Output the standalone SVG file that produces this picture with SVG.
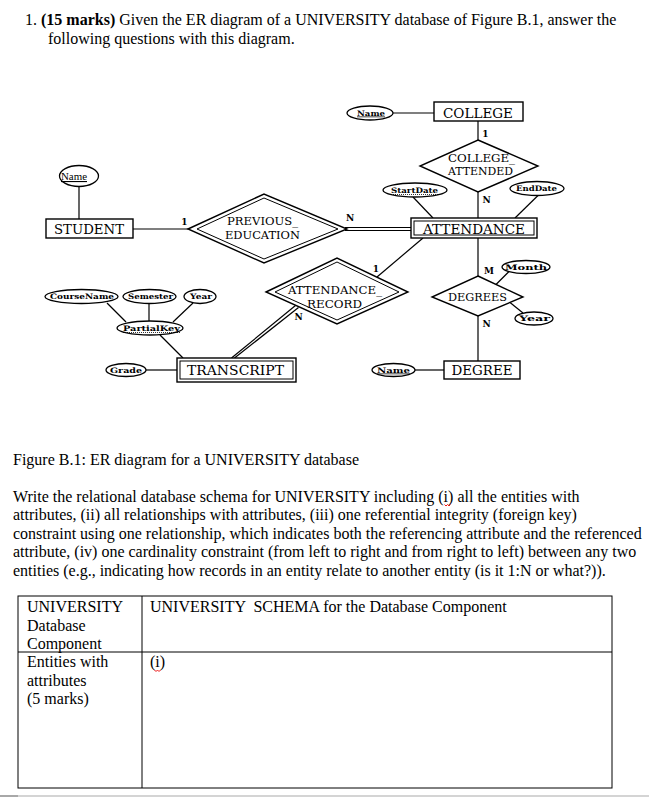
<svg xmlns="http://www.w3.org/2000/svg" width="649" height="797" viewBox="0 0 649 797">
<style>
.t{font-family:"Liberation Serif","Times New Roman",serif;font-size:16px;fill:#000}
.lbl{font-family:"DejaVu Serif",serif;font-size:13px;fill:#000;text-anchor:middle}
.rl{font-family:"DejaVu Serif",serif;font-size:11px;fill:#000;text-anchor:middle}
.att{font-family:"DejaVu Serif",serif;font-size:7.5px;font-weight:bold;fill:#000;text-anchor:middle}
.card{font-family:"DejaVu Serif",serif;font-size:9px;font-weight:bold;fill:#000;text-anchor:middle}
.box{fill:#fff;stroke:#000;stroke-width:1.4}
.in{fill:none;stroke:#000;stroke-width:1}
.ell{fill:#fff;stroke:#000;stroke-width:1.3}
.ln{stroke:#000;stroke-width:1.2;fill:none}
.ul{text-decoration:underline}
.dot{stroke:#000;stroke-width:0.8;stroke-dasharray:1 1}
.sq{fill:none;stroke:#e00;stroke-width:0.9}
</style>

<text class="t" x="25" y="25">1. <tspan font-weight="bold">(15 marks)</tspan> Given the ER diagram of a UNIVERSITY database of Figure B.1, answer the</text>
<text class="t" x="48" y="43.5">following questions with this diagram.</text>

<g id="connectors">
<line class="ln" x1="79" y1="186.5" x2="79" y2="219"/>
<line class="ln" x1="133" y1="229" x2="188" y2="229"/>
<line class="ln" x1="345" y1="227.5" x2="411" y2="227.5"/>
<line class="ln" x1="345" y1="230.5" x2="411" y2="230.5"/>
<line class="ln" x1="393" y1="113" x2="434" y2="113"/>
<line class="ln" x1="478" y1="121" x2="478" y2="140"/>
<line class="ln" x1="478" y1="192" x2="478" y2="218"/>
<line class="ln" x1="413" y1="197" x2="433" y2="218"/>
<line class="ln" x1="538" y1="195.5" x2="515" y2="218"/>
<line class="ln" x1="478" y1="238" x2="478" y2="276"/>
<line class="ln" x1="423" y1="238" x2="377" y2="277"/>
<line class="ln" x1="496" y1="284.5" x2="509" y2="271.5"/>
<line class="ln" x1="510" y1="302.5" x2="523" y2="313"/>
<line class="ln" x1="478" y1="316" x2="478" y2="361"/>
<line class="ln" x1="415" y1="370" x2="444" y2="370"/>
<line class="ln" x1="295.5" y1="305.5" x2="231.5" y2="358"/>
<line class="ln" x1="298.5" y1="307.5" x2="234.5" y2="358"/>
<line class="ln" x1="160" y1="335" x2="183" y2="358"/>
<line class="ln" x1="107" y1="303" x2="126" y2="322"/>
<line class="ln" x1="149" y1="303.5" x2="149" y2="321"/>
<line class="ln" x1="193" y1="303" x2="173" y2="322"/>
<line class="ln" x1="146" y1="370" x2="177" y2="370"/>
<text class="card" x="184.5" y="225">1</text>
<text class="card" x="350" y="221">N</text>
<text class="card" x="485.5" y="137">1</text>
<text class="card" x="486.5" y="203">N</text>
<text class="card" x="489" y="274">M</text>
<text class="card" x="486.5" y="327">N</text>
<text class="card" x="376" y="272">1</text>
<text class="card" x="298.5" y="320">N</text>
</g>

<g id="student">
<rect class="box" x="46" y="219" width="87" height="19"/>
<text class="lbl" x="89" y="234" font-size="14" textLength="70" lengthAdjust="spacingAndGlyphs">STUDENT</text>
</g>
<g id="student-name">
<ellipse class="ell" cx="79" cy="176" rx="19.5" ry="10.5"/>
<text class="ul" x="74" y="180" font-family="Liberation Serif,serif" font-size="11" text-anchor="middle" textLength="26" lengthAdjust="spacingAndGlyphs">Name</text>
</g>

<g id="college">
<rect class="box" x="434" y="102" width="89" height="19"/>
<text class="lbl" x="478" y="117.5" textLength="70" lengthAdjust="spacingAndGlyphs">COLLEGE</text>
</g>
<g id="college-name">
<ellipse class="ell" cx="370" cy="113" rx="23" ry="7"/>
<text class="att ul" x="371" y="115.5" textLength="28" lengthAdjust="spacingAndGlyphs">Name</text>
</g>

<g id="college-attended">
<polygon class="box" points="478,140 538,166 478,192 420,166"/>
<text class="rl" x="481.5" y="162" textLength="67" lengthAdjust="spacingAndGlyphs">COLLEGE_</text>
<text class="rl" x="480.5" y="175" textLength="65" lengthAdjust="spacingAndGlyphs">ATTENDED</text>
</g>

<g id="startdate">
<ellipse class="ell" cx="415" cy="190" rx="32" ry="7"/>
<text class="att" x="414.5" y="192.5" textLength="47" lengthAdjust="spacingAndGlyphs">StartDate</text>
<line class="dot" x1="391" y1="194.5" x2="438" y2="194.5"/>
</g>
<g id="enddate">
<ellipse class="ell" cx="537" cy="188.5" rx="27" ry="7"/>
<text class="att" x="536.5" y="191" textLength="41" lengthAdjust="spacingAndGlyphs">EndDate</text>
</g>

<g id="attendance">
<rect class="box" x="411" y="218" width="126" height="20"/>
<rect class="in" x="414" y="221" width="120" height="14"/>
<text class="lbl" x="474" y="234" textLength="102" lengthAdjust="spacingAndGlyphs">ATTENDANCE</text>
</g>

<g id="previous-education">
<polygon class="box" points="188,229 264,194 347,229 264,263"/>
<polygon class="in" points="197,229 264,198 338,229 264,259"/>
<text class="rl" x="262.5" y="225" textLength="71" lengthAdjust="spacingAndGlyphs">PREVIOUS_</text>
<text class="rl" x="262.5" y="238.5" textLength="75" lengthAdjust="spacingAndGlyphs">EDUCATION</text>
</g>

<g id="attendance-record">
<polygon class="box" points="266,292 337,258 408,292 337,324"/>
<polygon class="in" points="275,292 337,262 399,292 337,320"/>
<text class="rl" x="335" y="294" textLength="94" lengthAdjust="spacingAndGlyphs">ATTENDANCE_</text>
<text class="rl" x="334.5" y="307.5" textLength="55" lengthAdjust="spacingAndGlyphs">RECORD</text>
</g>

<g id="degrees">
<polygon class="box" points="478,276 523,297 478,316 432,297"/>
<text class="rl" x="477.5" y="301" textLength="59" lengthAdjust="spacingAndGlyphs">DEGREES</text>
</g>
<g id="month">
<ellipse class="ell" cx="526" cy="267" rx="24" ry="6.5"/>
<text class="att" x="526" y="269.5" textLength="42" lengthAdjust="spacingAndGlyphs">Month</text>
</g>
<g id="degrees-year">
<ellipse class="ell" cx="534" cy="318.5" rx="19" ry="6.5"/>
<text class="att" x="534.5" y="321" textLength="31" lengthAdjust="spacingAndGlyphs">Year</text>
</g>

<g id="degree">
<rect class="box" x="444" y="361" width="76" height="18"/>
<text class="lbl" x="482" y="375" textLength="61" lengthAdjust="spacingAndGlyphs">DEGREE</text>
</g>
<g id="degree-name">
<ellipse class="ell" cx="393.5" cy="370" rx="21.5" ry="6.5"/>
<text class="att ul" x="393.5" y="372.5" textLength="33" lengthAdjust="spacingAndGlyphs">Name</text>
</g>

<g id="transcript">
<rect class="box" x="177" y="358" width="119" height="24"/>
<rect class="in" x="180" y="361" width="113" height="18"/>
<text class="lbl" x="235.5" y="375" textLength="97" lengthAdjust="spacingAndGlyphs">TRANSCRIPT</text>
</g>
<g id="grade">
<ellipse class="ell" cx="126" cy="370" rx="20" ry="6.5"/>
<text class="att" x="126" y="372.5" textLength="32" lengthAdjust="spacingAndGlyphs">Grade</text>
</g>
<g id="partialkey">
<ellipse class="ell" cx="150" cy="328" rx="33" ry="7"/>
<text class="att" x="151.5" y="330.5" textLength="57" lengthAdjust="spacingAndGlyphs">PartialKey</text>
<line class="dot" x1="123" y1="332.5" x2="180" y2="332.5"/>
</g>
<g id="coursename">
<ellipse class="ell" cx="81.5" cy="296.5" rx="36.5" ry="7"/>
<text class="att" x="82" y="299" textLength="64" lengthAdjust="spacingAndGlyphs">CourseName</text>
</g>
<g id="semester">
<ellipse class="ell" cx="149.5" cy="296.5" rx="26.5" ry="7"/>
<text class="att" x="150.5" y="299" textLength="45" lengthAdjust="spacingAndGlyphs">Semester</text>
</g>
<g id="transcript-year">
<ellipse class="ell" cx="200" cy="296.5" rx="16" ry="7"/>
<text class="att" x="201" y="299" textLength="22" lengthAdjust="spacingAndGlyphs">Year</text>
</g>

<text class="t" x="13" y="465">Figure B.1: ER diagram for a UNIVERSITY database</text>
<text class="t" x="13" y="501.5">Write the relational database schema for UNIVERSITY including (i) all the entities with</text>
<text class="t" x="13" y="520">attributes, (ii) all relationships with attributes, (iii) one referential integrity (foreign key)</text>
<text class="t" x="13" y="538.5">constraint using one relationship, which indicates both the referencing attribute and the referenced</text>
<text class="t" x="13" y="557">attribute, (iv) one cardinality constraint (from left to right and from right to left) between any two</text>
<text class="t" x="13" y="575.5">entities (e.g., indicating how records in an entity relate to another entity (is it 1:N or what?)).</text>
<path class="sq" d="M444.5,504.5 l1.5,1.5 l1.5,-1.5 l1.5,1.5 l1.5,-1.5"/>

<g id="table">
<rect x="18" y="596" width="594" height="192" fill="none" stroke="#000" stroke-width="1"/>
<line x1="142" y1="596" x2="142" y2="788" stroke="#000" stroke-width="1"/>
<line x1="18" y1="652" x2="612" y2="652" stroke="#000" stroke-width="1"/>
<text class="t" x="27" y="612">UNIVERSITY</text>
<text class="t" x="27" y="630.5">Database</text>
<text class="t" x="27" y="649">Component</text>
<text class="t" x="27" y="667">Entities with</text>
<text class="t" x="27" y="685.5">attributes</text>
<text class="t" x="27" y="704">(5 marks)</text>
<text class="t" x="150" y="612" style="white-space:pre">UNIVERSITY  SCHEMA for the Database Component</text>
<text class="t" x="150" y="667">(i)</text>
<path class="sq" d="M154.5,670 l1.5,1.5 l1.5,-1.5 l1.5,1.5 l1.5,-1.5"/>
</g>
<rect x="0" y="795" width="649" height="2" fill="#d4d4d4"/>
<rect x="0" y="795" width="18" height="2" fill="#a8a8a8"/>
</svg>
